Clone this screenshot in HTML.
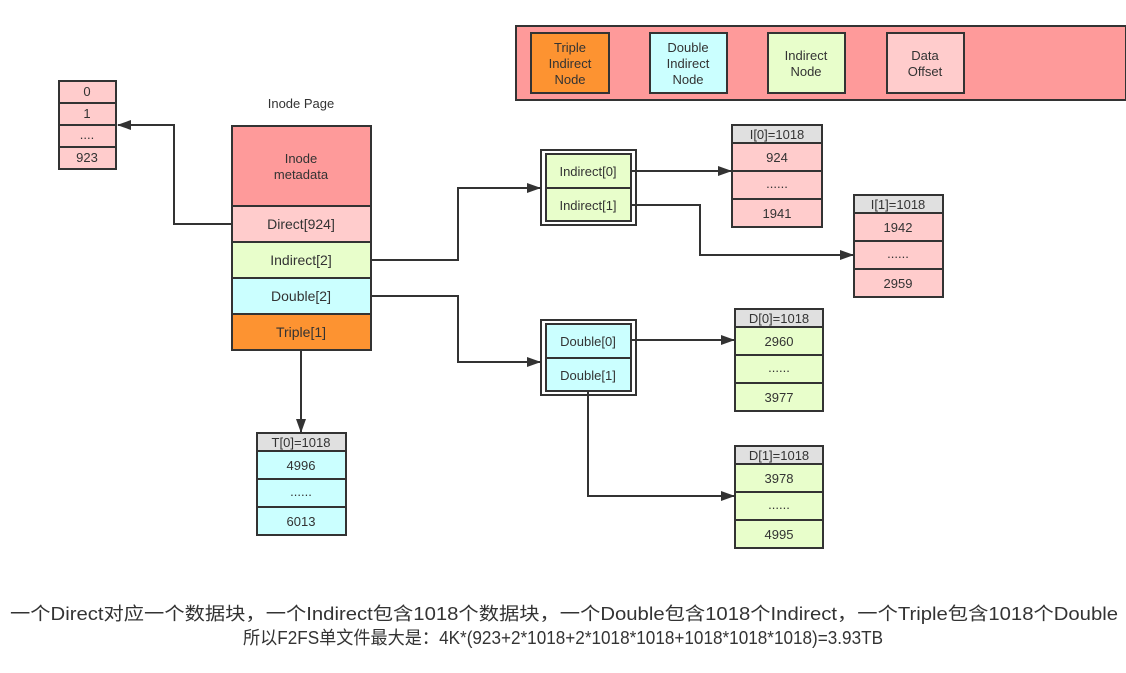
<!DOCTYPE html>
<html><head><meta charset="utf-8"><style>body{margin:0;background:#fff}svg{display:block}text{font-family:"Liberation Sans","Noto Sans CJK SC",sans-serif;fill:#333}</style></head><body>
<svg width="1126" height="673" viewBox="0 0 1126 673" xmlns="http://www.w3.org/2000/svg">
<defs><marker id="a" markerWidth="14" markerHeight="10" refX="13" refY="5" orient="auto" markerUnits="userSpaceOnUse"><path d="M0,0L14,5L0,10z" fill="#333"/></marker></defs>
<g stroke="#333" stroke-width="2">
<rect x="516" y="26" width="610" height="74" fill="#fe9a9a"/>
<rect x="531" y="33" width="78" height="60" fill="#fd9331"/>
<rect x="650" y="33" width="77" height="60" fill="#cbffff"/>
<rect x="768" y="33" width="77" height="60" fill="#e8fecb"/>
<rect x="887" y="33" width="77" height="60" fill="#ffcccc"/>
<rect x="59" y="81" width="57" height="88" fill="#ffcccc"/>
<path d="M59 103H116M59 125H116M59 147H116" fill="none"/>
<rect x="232" y="126" width="139" height="80" fill="#fe9a9a"/>
<rect x="232" y="206" width="139" height="36" fill="#ffcccc"/>
<rect x="232" y="242" width="139" height="36" fill="#e8fecb"/>
<rect x="232" y="278" width="139" height="36" fill="#cbffff"/>
<rect x="232" y="314" width="139" height="36" fill="#fd9331"/>
<rect x="541" y="150" width="95" height="75" fill="#fff"/>
<rect x="546" y="154" width="85" height="67" fill="#e8fecb"/>
<path d="M546 188H631" fill="none"/>
<rect x="541" y="320" width="95" height="75" fill="#fff"/>
<rect x="546" y="324" width="85" height="67" fill="#cbffff"/>
<path d="M546 358H631" fill="none"/>
<rect x="732" y="125" width="90" height="18" fill="#e0e0e0"/>
<rect x="732" y="143" width="90" height="84" fill="#ffcccc"/>
<path d="M732 171H822M732 199H822" fill="none"/>
<rect x="854" y="195" width="89" height="18" fill="#e0e0e0"/>
<rect x="854" y="213" width="89" height="84" fill="#ffcccc"/>
<path d="M854 241H943M854 269H943" fill="none"/>
<rect x="735" y="309" width="88" height="18" fill="#e0e0e0"/>
<rect x="735" y="327" width="88" height="84" fill="#e8fecb"/>
<path d="M735 355H823M735 383H823" fill="none"/>
<rect x="735" y="446" width="88" height="18" fill="#e0e0e0"/>
<rect x="735" y="464" width="88" height="84" fill="#e8fecb"/>
<path d="M735 492H823M735 520H823" fill="none"/>
<rect x="257" y="433" width="89" height="18" fill="#e0e0e0"/>
<rect x="257" y="451" width="89" height="84" fill="#cbffff"/>
<path d="M257 479H346M257 507H346" fill="none"/>
<g fill="none" marker-end="url(#a)">
<path d="M232 224H174V125H118"/>
<path d="M371 260H458V188H540"/>
<path d="M631 171H731"/>
<path d="M631 205H700V255H853"/>
<path d="M371 296H458V362H540"/>
<path d="M631 340H734"/>
<path d="M588 391V496H734"/>
<path d="M301 350V432"/>
</g>
</g>
<g font-size="13" text-anchor="middle">
<text x="570" y="52">Triple</text><text x="570" y="68">Indirect</text><text x="570" y="84">Node</text>
<text x="688" y="52">Double</text><text x="688" y="68">Indirect</text><text x="688" y="84">Node</text>
<text x="806" y="60">Indirect</text><text x="806" y="76">Node</text>
<text x="925" y="60" fill="#555">Data</text><text x="925" y="76" fill="#555">Offset</text>
<text x="87" y="96">0</text><text x="87" y="118">1</text><text x="87" y="139">....</text><text x="87" y="162">923</text>
<text x="301" y="108">Inode Page</text>
<text x="301" y="163">Inode</text><text x="301" y="179">metadata</text>
<text x="301" y="229" font-size="14">Direct[924]</text>
<text x="301" y="265" font-size="14">Indirect[2]</text>
<text x="301" y="301" font-size="14">Double[2]</text>
<text x="301" y="337" font-size="14">Triple[1]</text>
<text x="588" y="176">Indirect[0]</text><text x="588" y="210">Indirect[1]</text>
<text x="588" y="346">Double[0]</text><text x="588" y="380">Double[1]</text>
<text x="777" y="139">I[0]=1018</text><text x="777" y="162">924</text><text x="777" y="188">......</text><text x="777" y="218">1941</text>
<text x="898" y="209">I[1]=1018</text><text x="898" y="232">1942</text><text x="898" y="258">......</text><text x="898" y="288">2959</text>
<text x="779" y="323">D[0]=1018</text><text x="779" y="346">2960</text><text x="779" y="372">......</text><text x="779" y="402">3977</text>
<text x="779" y="460">D[1]=1018</text><text x="779" y="483">3978</text><text x="779" y="509">......</text><text x="779" y="539">4995</text>
<text x="301" y="447">T[0]=1018</text><text x="301" y="470">4996</text><text x="301" y="496">......</text><text x="301" y="526">6013</text>
</g>
<g font-size="18" fill="#222">
<text x="10" y="620" textLength="1108" lengthAdjust="spacingAndGlyphs" fill="#222">一个Direct对应一个数据块，一个Indirect包含1018个数据块，一个Double包含1018个Indirect，一个Triple包含1018个Double</text>
<text x="243" y="644" textLength="640" lengthAdjust="spacingAndGlyphs" fill="#222">所以F2FS单文件最大是：4K*(923+2*1018+2*1018*1018+1018*1018*1018)=3.93TB</text>
</g>
</svg>
</body></html>
